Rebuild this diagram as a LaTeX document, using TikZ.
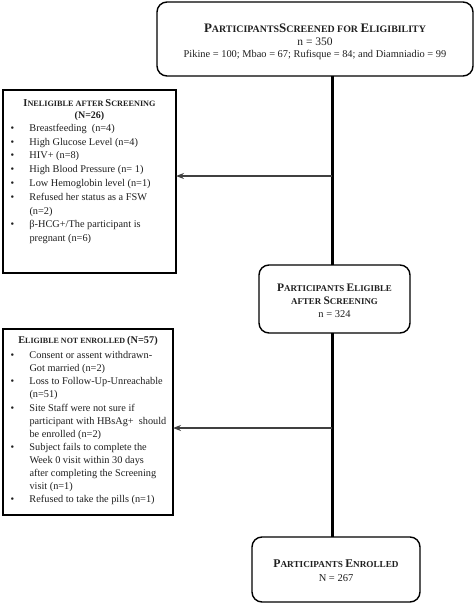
\documentclass[tikz,border=0pt]{standalone}
\usepackage{fontspec}
\setmainfont{Liberation Serif}
\usetikzlibrary{arrows.meta}
\def\lgsize{9}\def\smsize{7}
\newcommand\Lg[1]{{\bfseries\fontsize{\lgsize}{\lgsize}\selectfont #1}}
\newcommand\Sm[1]{{\bfseries\fontsize{\smsize}{\smsize}\selectfont #1}}
\newcommand\bul{\makebox[19pt][l]{\textbullet}}
\newcommand\cont{\hspace*{19pt}}
\tikzset{
  rbox/.style={draw=black, line width=1.4pt, rounded corners=10pt, inner sep=0pt, outer sep=0pt},
  sbox/.style={draw=black, line width=1.4pt, inner sep=0pt, outer sep=0pt},
  txt/.style={inner sep=0pt, outer sep=0pt, text=black!88},
  flow/.style={line width=3pt, black},
  side/.style={line width=1.3pt, black!75, -{Stealth[length=8pt,width=6pt]}},
  listtxt/.style={txt, align=left, anchor=north west}
}
\begin{document}
\begin{tikzpicture}[x=1pt, y=-1pt]
\useasboundingbox (0,0) rectangle (474,605);
% boxes
\node[rbox, minimum width=316pt, minimum height=74pt] (top) at (315,39) {};
\node[rbox, minimum width=151pt, minimum height=68pt] (elig) at (334.5,299) {};
\node[rbox, minimum width=168pt, minimum height=65pt] (enr) at (336,569.5) {};
\node[sbox, minimum width=173pt, minimum height=183pt] (inel) at (89.5,181.5) {};
\node[sbox, minimum width=170pt, minimum height=186pt] (notenr) at (88,422) {};
% top box text
\node[txt, anchor=base] (t1) at (315,32) {\def\lgsize{13}\def\smsize{9.9}\Lg{P}\Sm{ARTICIPANTS}\Lg{S}\Sm{CREENED FOR }\Lg{E}\Sm{LIGIBILITY}};
\node[txt, anchor=base, font=\fontsize{11.5}{13}\selectfont] (t2) at (315,45) {n = 350};
\node[txt, anchor=base, font=\fontsize{10.4}{12}\selectfont] (t3) at (315,57.5) {Pikine = 100; Mbao = 67; Rufisque = 84; and Diamniadio = 99};
% eligible box text
\node[txt, anchor=base] (e1) at (334.5,291.5) {\def\lgsize{11.5}\def\smsize{8.9}\Lg{P}\Sm{ARTICIPANTS }\Lg{E}\Sm{LIGIBLE}};
\node[txt, anchor=base] (e2) at (334.5,304) {\def\lgsize{11.5}\def\smsize{8.9}\Sm{AFTER }\Lg{S}\Sm{CREENING}};
\node[txt, anchor=base, font=\fontsize{10.5}{12}\selectfont] (e3) at (334.5,317) {n = 324};
% enrolled box text
\node[txt, anchor=base] (n1) at (336,567) {\def\lgsize{11.8}\def\smsize{9.2}\Lg{P}\Sm{ARTICIPANTS }\Lg{E}\Sm{NROLLED}};
\node[txt, anchor=base, font=\fontsize{10.5}{12}\selectfont] (n2) at (336,581) {N = 267};
% ineligible box text
\node[txt, anchor=base] (i1) at (89.5,106.5) {\def\lgsize{10.5}\def\smsize{8.2}\Lg{I}\Sm{NELIGIBLE AFTER }\Lg{S}\Sm{CREENING}};
\node[txt, anchor=base] (i2) at (89.5,118.5) {\def\lgsize{10}\Lg{(N=26)}};
\node[listtxt, font=\fontsize{10.3}{13.8}\selectfont] (ilist) at (10.5,124) {%
\bul Breastfeeding~ (n=4)\\
\bul High Glucose Level (n=4)\\
\bul HIV+ (n=8)\\
\bul High Blood Pressure (n= 1)\\
\bul Low Hemoglobin level (n=1)\\
\bul Refused her status as a FSW\\
\cont (n=2)\\
\bul β-HCG+/The participant is\\
\cont pregnant (n=6)};
% eligible-not-enrolled box text
\node[txt, anchor=base] (ne1) at (88,343.5) {\def\lgsize{10.3}\def\smsize{8}\Lg{E}\Sm{LIGIBLE NOT ENROLLED }\Lg{(N=57)}};
\node[listtxt, font=\fontsize{10.3}{13.1}\selectfont] (nelist) at (10.5,351.5) {%
\bul Consent or assent withdrawn-\\
\cont Got married (n=2)\\
\bul Loss to Follow-Up-Unreachable\\
\cont (n=51)\\
\bul Site Staff were not sure if\\
\cont participant with HBsAg+~ should\\
\cont be enrolled (n=2)\\
\bul Subject fails to complete the\\
\cont Week 0 visit within 30 days\\
\cont after completing the Screening\\
\cont visit (n=1)\\
\bul Refused to take the pills (n=1)};
% connectors
\coordinate (vx) at (332,0);
\coordinate (a1) at (332,176);
\coordinate (a2) at (332,428);
\draw[flow] (top.south -| vx) -- (elig.north -| vx);
\draw[flow] (elig.south -| vx) -- (enr.north -| vx);
\draw[side] (a1) -- (a1 -| inel.east);
\draw[side] (a2) -- (a2 -| notenr.east);
\end{tikzpicture}
\end{document}
